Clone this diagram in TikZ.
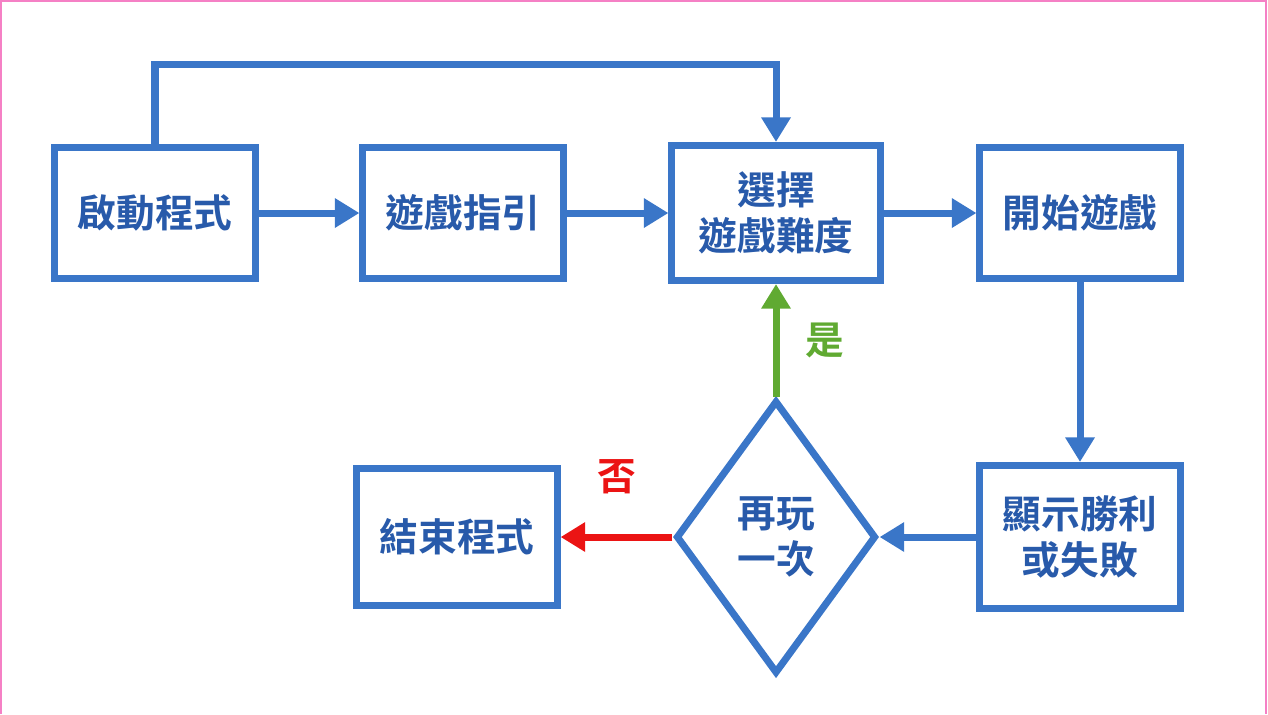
\documentclass[tikz,border=0pt]{standalone}
\usepackage{fontspec}
\newfontfamily\cjk{Noto Sans CJK TC}[BoldFont={* Bold}]
\usetikzlibrary{arrows.meta,shapes.geometric,positioning}
\definecolor{flowblue}{RGB}{58,118,200}
\definecolor{textblue}{RGB}{40,90,170}
\definecolor{yesgreen}{RGB}{96,170,50}
\definecolor{nored}{RGB}{235,20,20}
\tikzset{
  box/.style={draw=flowblue, line width=2pt, minimum width=2.0cm, minimum height=1.3cm,
    align=center, font=\cjk\bfseries\fontsize{11}{13}\selectfont, text=textblue},
  choice/.style={draw=flowblue, line width=2pt, diamond, aspect=0.73, minimum width=2.0cm,
    minimum height=2.73cm, inner sep=0pt, align=center, font=\cjk\bfseries\fontsize{11}{13}\selectfont, text=textblue},
  flow/.style={draw=flowblue, line width=2pt, -{Triangle[length=7pt,width=8pt]}},
}
\begin{document}
\begin{tikzpicture}[x=0.01cm,y=-0.01cm]
\useasboundingbox (0,0) rectangle (1268,714);
\draw[magenta!50, line width=0.6pt] (1,714) -- (1,1) -- (1266,1) -- (1266,714);

\node[box] (start) at (155,213) {啟動程式};
\node[box] (guide) at (463,213) {遊戲指引};
\node[box, minimum width=2.08cm, minimum height=1.35cm] (level) at (776,213) {選擇\\遊戲難度};
\node[box] (play) at (1080,213) {開始遊戲};
\node[box, minimum height=1.43cm] (result) at (1080,537) {顯示勝利\\或失敗};
\node[choice] (again) at (776,537) {再玩\\一次};
\node[box, minimum height=1.37cm] (quit) at (457,537) {結束程式};

\draw[flow] (start) -- (guide);
\draw[flow] (guide) -- (level);
\draw[flow] (level) -- (play);
\draw[flow] (start.north) -- ++(0,-80) -| (level.north);
\draw[flow] (play) -- (result);
\draw[flow] (result) -- (again);
\draw[flow, draw=yesgreen] (again.north) -- (level.south)
  node[midway, right=4pt, text=yesgreen, font=\cjk\bfseries\fontsize{11}{13}\selectfont] {是};
\draw[flow, draw=nored] (again.west) -- (quit.east)
  node[midway, above=8pt, text=nored, font=\cjk\bfseries\fontsize{11}{13}\selectfont] {否};
\end{tikzpicture}
\end{document}
